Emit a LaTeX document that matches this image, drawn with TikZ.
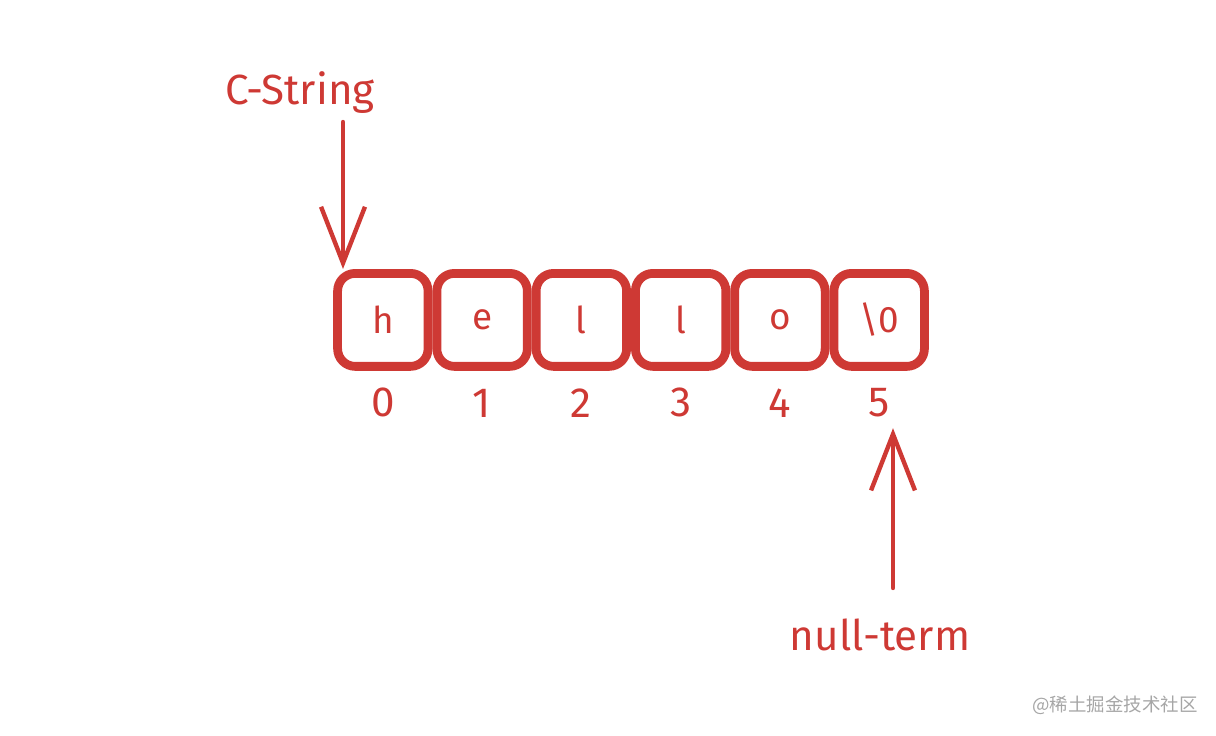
\documentclass[tikz,border=0pt]{standalone}
\usepackage{fontspec}
\setmainfont{Fira Sans}
\newfontfamily\cjkfont{Noto Sans CJK SC}
\usepackage{xcolor}
\usetikzlibrary{matrix,arrows.meta}
\definecolor{inkred}{RGB}{206,57,52}

\begin{document}
\begin{tikzpicture}[x=0.02cm,y=0.02cm,
    row 1/.style={nodes={draw=inkred,line width=5pt,rounded corners=10pt,
        minimum width=1.81cm,minimum height=1.86cm,inner sep=0pt,
        font=\fontsize{21}{25}\selectfont}},
    row 2/.style={nodes={inner sep=2pt,font=\fontsize{24}{28}\selectfont}},
    pointer/.style={draw=inkred,line width=2.5pt,line cap=round,
        -{Straight Barb[length=32pt,width=25pt]}},
    every node/.style={text=inkred}]
    \useasboundingbox (0,0) rectangle (1216,-736);

    \matrix (m) at (631,-345) [matrix of nodes,
        column sep=0pt, row sep=8pt,
        nodes={anchor=center}
    ]
    {
        h & e & l & l & o & \textbackslash 0 \\
        0 & 1 & 2 & 3 & 4 & 5                \\
    };

    % labels
    \node[font=\fontsize{24}{28}\selectfont] (cstr) at (300,-93) {C-String};
    \node[font=\fontsize{24}{28}\selectfont] (nterm) at (880,-635) {null-term};

    % pointers
    \coordinate (cfrom) at (343,-122);
    \coordinate (nfrom) at (893,-588);
    \draw[pointer] (cfrom) -- (cfrom |- m-1-1.north);
    \draw[pointer,shorten >=4pt] (nfrom) -- (nfrom |- m-2-6.south);

    \node[text=black!35,font=\cjkfont\fontsize{10.5}{12}\selectfont] (mark)
        at (1115,-705) {@稀土掘金技术社区};
\end{tikzpicture}
\end{document}
